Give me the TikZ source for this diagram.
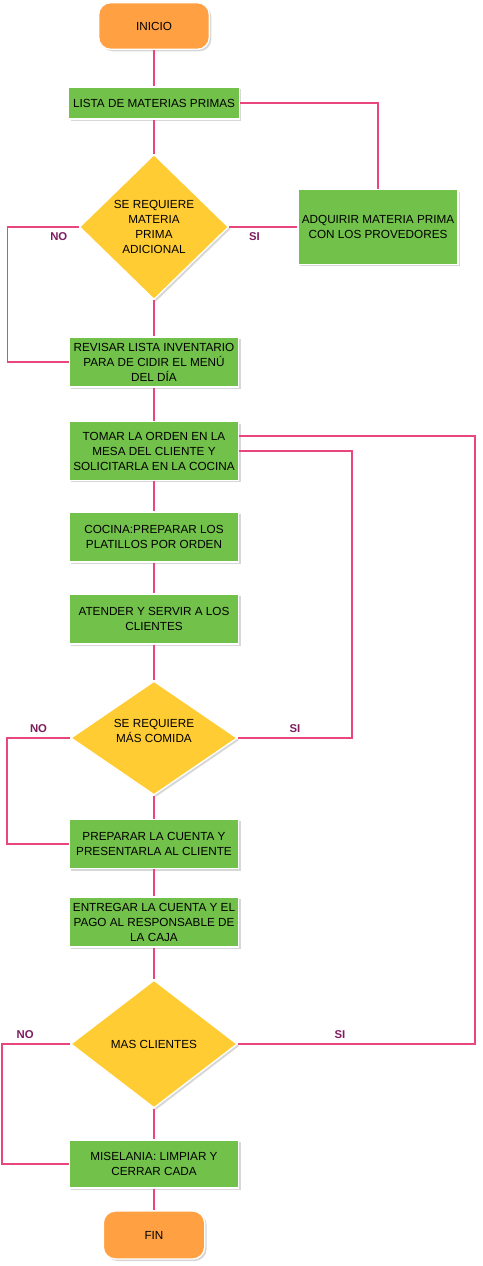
\documentclass[tikz,border=0pt]{standalone}
\usepackage{fontspec}
\setmainfont{Liberation Sans}
\usetikzlibrary{shapes.geometric, shadows}
\definecolor{boxgreen}{HTML}{72C14A}
\definecolor{decyellow}{HTML}{FFCC33}
\definecolor{endorange}{HTML}{FFA043}
\definecolor{linkpink}{HTML}{E8467C}
\definecolor{lblpurple}{HTML}{7D1D5E}

\begin{document}
\begin{tikzpicture}[x=0.75pt,y=-0.75pt,
  font=\fontsize{8.8}{11.25}\selectfont,
  softshadow/.style={drop shadow={shadow xshift=1.5pt,shadow yshift=-1.5pt,fill=black!35,opacity=.45}},
  proc/.style={rectangle, fill=boxgreen, draw=white, line width=1pt, align=center, inner sep=1pt, softshadow},
  dec/.style={diamond, fill=decyellow, draw=white, line width=1pt, align=center, inner sep=0pt, softshadow},
  term/.style={rectangle, rounded corners=9pt, fill=endorange, draw=white, line width=1pt, softshadow},
  link/.style={draw=linkpink, line width=1.1pt},
  lbl/.style={text=lblpurple, font=\fontsize{8.5}{10}\selectfont\bfseries}]
\useasboundingbox (0,0) rectangle (482,1266);

% steps
\node[term, minimum width=83pt, minimum height=35pt] (inicio) at (154,26) {INICIO};
\node[proc, minimum width=128pt, minimum height=24pt] (lista) at (154,103) {LISTA DE MATERIAS PRIMAS};
\node[dec, minimum width=112pt, minimum height=109pt] (dec1) at (154,227) {SE REQUIERE\\MATERIA\\PRIMA\\ADICIONAL};
\node[proc, minimum width=120pt, minimum height=56pt] (adq) at (378,227) {ADQUIRIR MATERIA PRIMA\\CON LOS PROVEDORES};
\node[proc, minimum width=127pt, minimum height=37.5pt] (rev) at (154,362) {REVISAR LISTA INVENTARIO\\PARA DE CIDIR EL MENÚ\\DEL DÍA};
\node[proc, minimum width=127pt, minimum height=44pt] (tom) at (154,451) {TOMAR LA ORDEN EN LA\\MESA DEL CLIENTE Y\\SOLICITARLA EN LA COCINA};
\node[proc, minimum width=127pt, minimum height=37.5pt] (coc) at (154,537) {COCINA:PREPARAR LOS\\PLATILLOS POR ORDEN};
\node[proc, minimum width=127pt, minimum height=37.5pt] (ate) at (154,619) {ATENDER Y SERVIR A LOS\\CLIENTES};
\node[dec, aspect=1.46, minimum width=125pt, minimum height=85.5pt] (dec2) at (154,738) {SE REQUIERE\\MÁS COMIDA\\\mbox{}};
\node[proc, minimum width=127pt, minimum height=37pt] (prep) at (154,844) {PREPARAR LA CUENTA Y\\PRESENTARLA AL CLIENTE};
\node[proc, minimum width=127pt, minimum height=37.5pt] (ent) at (154,922) {ENTREGAR LA CUENTA Y EL\\PAGO AL RESPONSABLE DE\\LA CAJA};
\node[dec, aspect=1.3, minimum width=125pt, minimum height=96pt] (dec3) at (154,1044) {MAS CLIENTES};
\node[proc, minimum width=127pt, minimum height=36pt] (mis) at (154,1164) {MISELANIA: LIMPIAR Y\\CERRAR CADA};
\node[term, minimum width=76pt, minimum height=36pt] (fin) at (154,1235) {FIN};

% main line
\foreach \a/\b in {inicio/lista, lista/dec1, dec1/rev, rev/tom, tom/coc, coc/ate, ate/dec2, dec2/prep, prep/ent, ent/dec3, dec3/mis, mis/fin}
  \draw[link] (\a) -- (\b);

% branches
\draw[link] (lista.east) -| (adq.north);
\draw[link] (dec1.east) -- node[lbl,below,pos=.37]{SI} (adq.west);
\draw[link] (dec1.west) -- node[lbl,below,pos=.28]{NO} ++(-71,0) |- (rev.west);
\draw[link] (dec2.east) -- node[lbl,above]{SI} ++(114,0) |- (tom.east);
\draw[link] (dec2.west) -- node[lbl,above]{NO} ++(-63,0) |- (prep.west);
\draw[link] (dec3.east) -- node[lbl,above,pos=.43]{SI} ++(237,0) |- (tom.10);
\draw[link] (dec3.west) -- node[lbl,above,pos=.66]{NO} ++(-68,0) |- (mis.west);
\end{tikzpicture}
\end{document}
